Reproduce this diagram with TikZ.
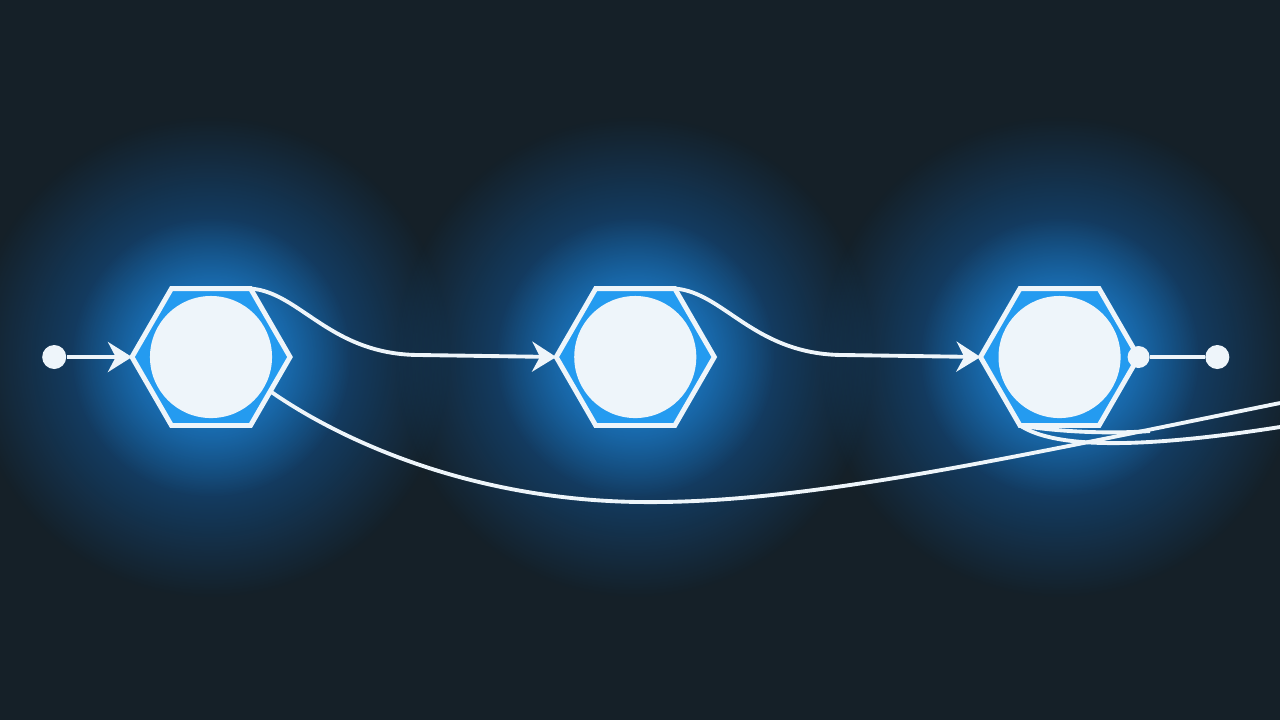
\documentclass[tikz,border=0pt]{standalone}
\usetikzlibrary{positioning,shapes.geometric,arrows.meta,fadings,backgrounds}
\definecolor{bgdark}{RGB}{21,32,40}
\definecolor{glowblue}{RGB}{16,112,205}
\definecolor{glowlight}{RGB}{36,155,240}
\definecolor{wirewhite}{RGB}{238,245,250}
\tikzfading[name=glowfade, inner color=transparent!0, outer color=transparent!100]

\begin{document}
\begin{tikzpicture}[x=0.01cm, y=-0.01cm,
    hexnode/.style={regular polygon, regular polygon sides=6, draw=wirewhite, fill=glowlight, line width=1.4pt, minimum size=1.58cm, inner sep=0pt, outer sep=0pt},
    cellnode/.style={circle, fill=wirewhite, minimum size=1.22cm, inner sep=0pt},
    dotnode/.style={circle, fill=wirewhite, minimum size=2.4mm, inner sep=0pt},
    wire/.style={draw=wirewhite, line width=1.1pt},
    >={Stealth[length=2.4mm,width=3mm]},
    ]
\useasboundingbox (0,0) rectangle (1280,720);
%Nodes
\node[hexnode]   (h1)  at (211,357)              {};
\node[hexnode]   (h2)  [right=2.66cm of h1]      {};
\node[hexnode]   (h3)  [right=2.66cm of h2]      {};
\node[cellnode]  (c1)  at (h1)                   {};
\node[cellnode]  (c2)  at (h2)                   {};
\node[cellnode]  (c3)  at (h3)                   {};
\node[dotnode]   (in)  [left=0.65cm of h1]       {};
\node[dotnode]   (out) [right=0.66cm of h3]      {};
\node[dotnode, minimum size=2.2mm] (joint) at (h3.0) {};
\coordinate (exitA) at (1280,403);
\coordinate (exitB) at (1280,427);
\coordinate (merge) at (1150,431);

%Lines
\draw[wire,->] (in) -- (h1.180);
\draw[wire,->] (h1.60) .. controls (300,292) and (330,355) .. (420,355) -- (h2.180);
\draw[wire,->] (h2.60) .. controls (724,292) and (754,355) .. (844,355) -- (h3.180);
\draw[wire] (joint) -- (out);
\draw[wire] (h1.330) .. controls (340,440) and (470,500) .. (640,502)
    .. controls (800,504) and (1000,460) .. (exitA);
\draw[wire] (h3.240) .. controls (1060,432) and (1110,434) .. (merge);
\draw[wire] (h3.240) .. controls (1050,445) and (1120,452) .. (exitB);

%Glow
\begin{scope}[on background layer]
\fill[bgdark] (0,0) rectangle (1280,720);
\foreach \h in {h1,h2,h3}{
    \fill[glowblue, path fading=glowfade, opacity=.8] (\h) circle (240);
    \fill[glowlight, path fading=glowfade, opacity=.8] (\h) circle (140);
}
\end{scope}
\end{tikzpicture}
\end{document}
